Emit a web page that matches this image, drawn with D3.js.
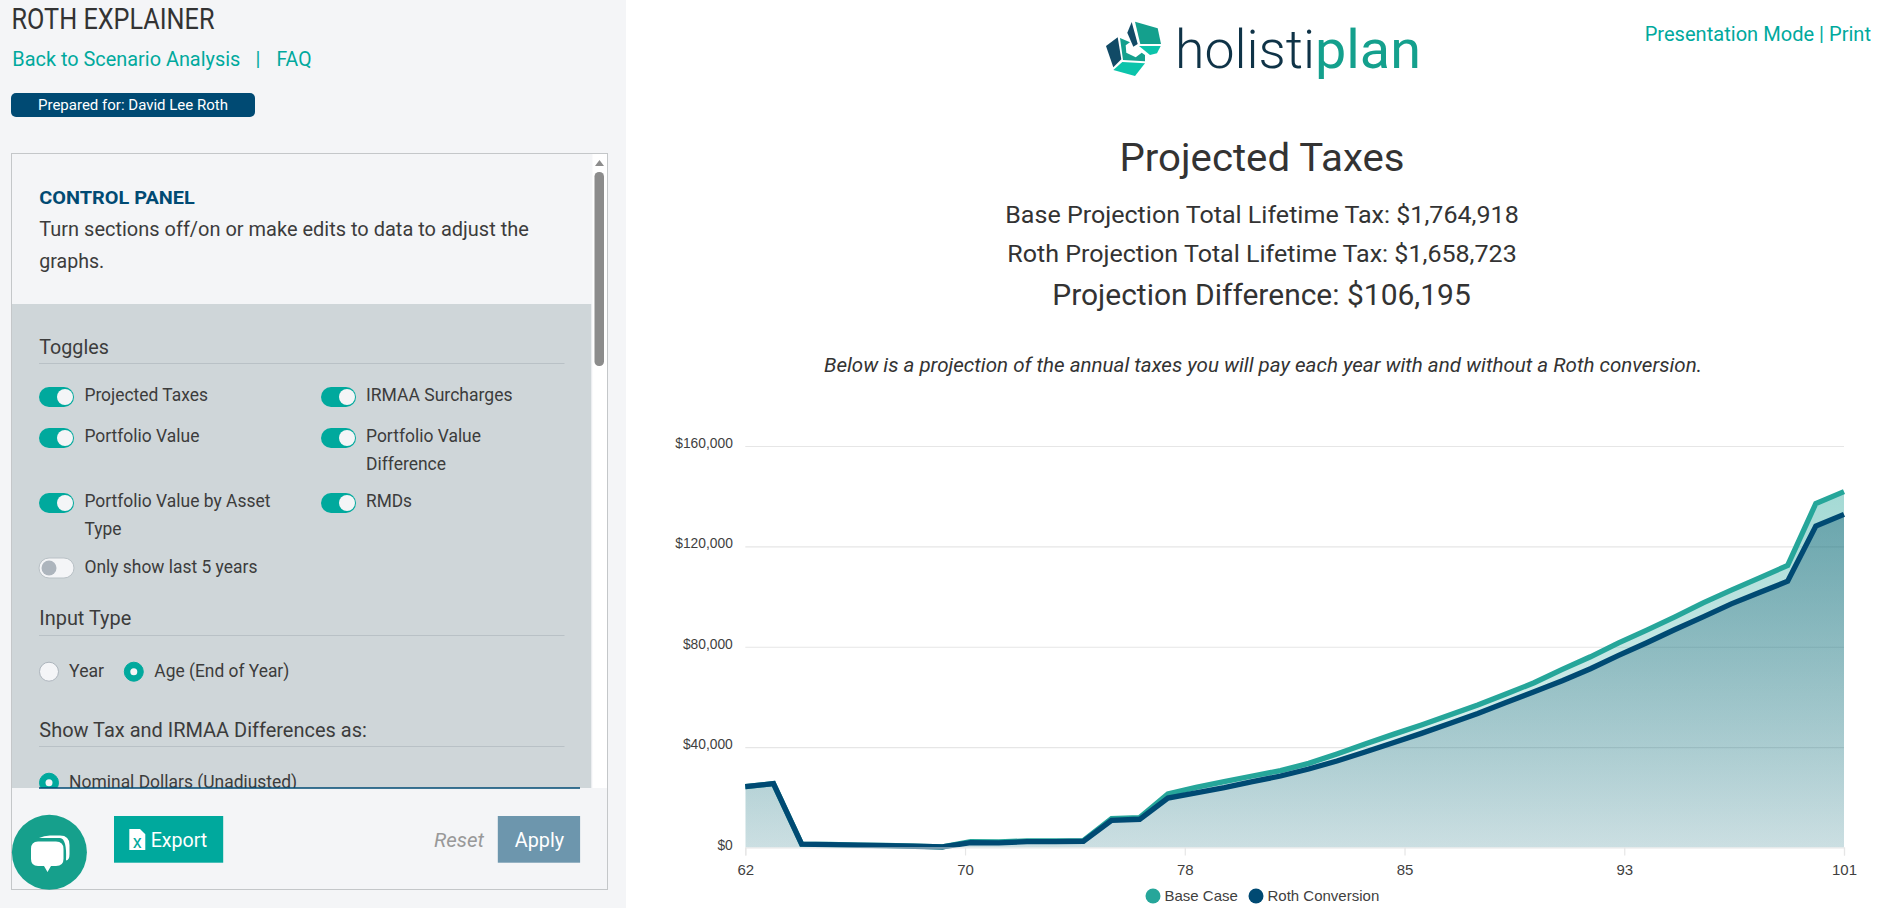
<!DOCTYPE html>
<html><head><meta charset="utf-8">
<script src="https://cdn.jsdelivr.net/npm/d3@7"></script>
<style>html,body{margin:0;padding:0;background:#fff;overflow:hidden}svg{display:block;font-family:Roboto,sans-serif}
.axis text{font-family:"Liberation Sans",Arial,sans-serif}</style></head><body>
<script>
// ---- chart data ----
const ages = [62,63,64,65,66,67,68,69,70,71,72,73,74,75,76,77,78,79,80,81,82,83,84,85,86,87,88,89,90,91,92,93,94,95,96,97,98,99,100,101];
const baseCase = [24250,25440,1350,1200,950,800,550,250,2350,2220,2620,2620,2750,11510,11910,21330,23980,26240,28500,30620,33540,37250,41230,45080,48800,52780,56760,61140,65650,70960,76000,81580,86620,91930,97500,102540,107450,112400,137100,141800];
const rothConversion = [24250,25440,1300,1160,900,760,500,230,1950,1820,2350,2350,2490,10850,11250,19700,21730,23850,26240,28500,31280,34470,38050,41770,45480,49460,53440,57820,62070,66450,71230,76530,81580,86880,91930,97100,101600,106100,128100,132750];
const yTicks = [0,40000,80000,120000,160000];
const xTicks = [62,69.8,77.6,85.4,93.2,101];
const seriesNames = ["Base Case","Roth Conversion"];
const col = {teal:"#00a99d",navy:"#004a73",base:"#26a69a",side:"#f4f5f7",gray:"#cfd6d9",rule:"#b9c1c6",ink:"#333333"};

const svg = d3.select("body").append("svg").attr("width",1883).attr("height",908);
const defs = svg.append("defs");
function T(x,y,s,o={}){
  const t = (o.g||svg).append("text").attr("x",x).attr("y",y).text(s)
    .attr("font-size",o.size||17).attr("fill",o.fill||col.ink);
  if(o.weight) t.attr("font-weight",o.weight);
  if(o.italic) t.attr("font-style","italic");
  if(o.anchor) t.attr("text-anchor",o.anchor);
  if(o.width) t.attr("textLength",o.width).attr("lengthAdjust","spacingAndGlyphs");
  return t;
}
function R(x,y,w,h,fill,o={}){
  const r=(o.g||svg).append("rect").attr("x",x).attr("y",y).attr("width",w).attr("height",h).attr("fill",fill);
  if(o.rx) r.attr("rx",o.rx);
  if(o.stroke) r.attr("stroke",o.stroke);
  return r;
}
function L(x1,x2,y,c,w=1){svg.append("line").attr("x1",x1).attr("x2",x2).attr("y1",y).attr("y2",y).attr("stroke",c).attr("stroke-width",w);}

// ---- sidebar ----
R(0,0,626,908,col.side);
T(11.5,29,"ROTH EXPLAINER",{size:30,width:203});
T(12.3,65.5,"Back to Scenario Analysis",{size:20,fill:col.teal,width:228});
T(255.5,65.5,"|",{size:20,fill:col.teal});
T(276.5,65.5,"FAQ",{size:20,fill:col.teal,width:35});
R(11,93,244,24,col.navy,{rx:5});
T(38,109.7,"Prepared for: David Lee Roth",{size:15,fill:"#fff",width:190});

R(11.5,153.5,596,736,col.side,{stroke:"#c4c7c9"});
R(592.5,154,14.5,634,"#ffffff");
svg.append("path").attr("d","M599.5 160 L604 166 L595 166 Z").attr("fill","#8c8c8c");
R(594.5,172,9.5,194,"#8c8c8c",{rx:4.5});
T(39.3,203.7,"CONTROL PANEL",{size:19.2,weight:700,fill:col.navy,width:155.5});
T(39.3,235.7,"Turn sections off/on or make edits to data to adjust the",{size:19.8,fill:"#3c3c3c",width:489.5});
T(39.3,267.7,"graphs.",{size:19.8,fill:"#3c3c3c",width:65});

defs.append("clipPath").attr("id","pc").append("rect").attr("x",12).attr("y",304).attr("width",579.5).attr("height",484);
const pg = svg.append("g").attr("clip-path","url(#pc)");
R(12,304,579.5,484,col.gray,{g:pg});
function head(y,s,w,ruleY){T(39.3,y,s,{size:20,g:pg,width:w,fill:"#3c3c3c"});
  pg.append("line").attr("x1",39).attr("x2",564.5).attr("y1",ruleY).attr("y2",ruleY).attr("stroke",col.rule).attr("stroke-width",1);}
head(353.7,"Toggles",69.5,363.5);
head(625.2,"Input Type",92,635.5);
head(737,"Show Tax and IRMAA Differences as:",327.5,746.5);

function toggle(x,y,on){
  R(x,y,35,20,on?col.teal:col.side,{g:pg,rx:10,stroke:on?null:col.rule});
  pg.append("circle").attr("cx",on?x+26:x+10).attr("cy",y+10).attr("r",on?8:7.5).attr("fill",on?col.side:"#adb5bd");
}
const lab={size:17.6,g:pg,fill:"#3c3c3c"};
toggle(39,387,true); T(84.4,401.2,"Projected Taxes",{...lab,width:123.5});
toggle(321,387,true); T(366,401.2,"IRMAA Surcharges",{...lab,width:146.5});
toggle(39,428,true); T(84.4,442.2,"Portfolio Value",{...lab,width:115});
toggle(321,428,true); T(366,442.2,"Portfolio Value",{...lab,width:115}); T(366,470.2,"Difference",{...lab,width:80});
toggle(39,493,true); T(84.4,507.2,"Portfolio Value by Asset",{...lab,width:186}); T(84.4,535.2,"Type",{...lab,width:37});
toggle(321,493,true); T(366,507.2,"RMDs",{...lab,width:46});
toggle(39,558,false); T(84.4,572.8,"Only show last 5 years",{...lab,width:173});
function radio(x,y,on){
  pg.append("circle").attr("cx",x).attr("cy",y).attr("r",9.5).attr("fill",on?col.teal:col.side).attr("stroke",on?col.teal:"#adb5bd");
  if(on) pg.append("circle").attr("cx",x).attr("cy",y).attr("r",3.5).attr("fill",col.side);
}
radio(49,671.7,false); T(69.1,676.8,"Year",{...lab,width:35});
radio(133.8,671.7,true); T(154.3,676.8,"Age (End of Year)",{...lab,width:135});
radio(49,782.7,true); T(69.1,787.5,"Nominal Dollars (Unadjusted)",{...lab,width:228});
L(39,580,788,col.navy,1.5);

R(114,816,109.2,46.7,col.teal);
svg.append("path").attr("d","M129.3 829 H140 L145.3 834.3 V850 H129.3 Z").attr("fill","#fff");
T(137.3,848,"x",{size:18,fill:col.teal,anchor:"middle",width:9});
T(150.7,846.8,"Export",{size:20,fill:"#fff",width:56.6});
T(434,846.8,"Reset",{size:20,italic:true,fill:"#999",width:50});
R(497.8,816,82.3,46.7,"#6d96ad");
T(514.8,846.6,"Apply",{size:20,fill:"#fff",width:49.4});

svg.append("circle").attr("cx",49.4).attr("cy",852.3).attr("r",37.5).attr("fill","#16a08c");
svg.append("path").attr("d","M39 838 Q44 835.5 50 835.5 H60 Q69.5 835.5 69.5 845 V854 Q69.5 860 66 860.5 Q67 838.5 60 838 Z").attr("fill","#fff");
svg.append("path").attr("d","M38 841.5 H56 Q63.5 841.5 63.5 849 V859 Q63.5 866 56 866 H51 L47.5 872 L44 866 H38 Q31 866 31 859 V849 Q31 841.5 38 841.5 Z").attr("fill","#fff");

// ---- logo ----
const P=(d,c)=>svg.append("path").attr("d",d).attr("fill",c);
const lx=z=>1095+z/3, ly=z=>10+z/3;
const poly=(pts,c)=>P("M"+pts.map(p=>lx(p[0]).toFixed(1)+" "+ly(p[1]).toFixed(1)).join("L")+"Z",c);
poly([[120,35],[188,55],[198,102],[136,102]],"#14a08d");
poly([[110,36],[128,102],[115,110],[97,68]],"#114a66");
poly([[132,108],[197,108],[186,130],[165,135]],"#0cc4ab");
poly([[68,82],[79,148],[55,172],[33,108]],"#114a66");
poly([[75,84],[105,97],[92,106],[94,128],[122,142],[140,128],[150,135],[150,154],[84,150]],"#14a08d");
poly([[82,156],[150,160],[120,198],[55,180]],"#0cc4ab");
T(1175,68.3,"holisti",{size:54,weight:300,fill:"#0f3347",width:140});
T(1315,68.3,"plan",{size:54,weight:400,fill:"#14a08d",width:106});
T(1644.7,41.2,"Presentation Mode | Print",{size:19.6,fill:col.teal,width:226.3});

// ---- headings ----
T(1262,170.7,"Projected Taxes",{size:38.4,anchor:"middle",width:285});
T(1262,223,"Base Projection Total Lifetime Tax: $1,764,918",{size:24.4,anchor:"middle",width:513.5});
T(1262,262,"Roth Projection Total Lifetime Tax: $1,658,723",{size:24.4,anchor:"middle",width:509.5});
T(1261.5,305,"Projection Difference: $106,195",{size:29,anchor:"middle",width:418.5});
T(1263,372,"Below is a projection of the annual taxes you will pay each year with and without a Roth conversion.",{size:19.6,italic:true,anchor:"middle",width:878});

// ---- chart ----
const x = d3.scaleLinear().domain([62,101]).range([745.3,1844]);
const y = d3.scaleLinear().domain([0,160000]).range([847.5,446]);
const g = svg.append("g");
const gy = g.append("g").attr("class","axis").attr("transform","translate(745.3,0)")
  .call(d3.axisLeft(y).tickValues(yTicks).tickSize(0).tickPadding(12.5).tickFormat(d=>"$"+d3.format(",")(d)));
gy.select(".domain").remove();
gy.selectAll("text").attr("font-size",13.8).attr("fill","#3f3f3f").attr("dy","1.5px");
gy.selectAll("g.tick").filter(d=>d!==0).append("line").attr("x2",1098.7).attr("stroke","#e6e6e6").attr("stroke-width",1.2);

const grad=(id,c,a,b)=>{const lg=defs.append("linearGradient").attr("id",id).attr("gradientUnits","userSpaceOnUse")
  .attr("x1",0).attr("x2",0).attr("y1",y(142000)).attr("y2",y(0));
  lg.append("stop").attr("offset",0).attr("stop-color",c).attr("stop-opacity",a);
  lg.append("stop").attr("offset",1).attr("stop-color",c).attr("stop-opacity",b);};
grad("gb",col.base,0.42,0.08);
grad("gr","#08506b",0.4,0.15);
const area=d3.area().x((d,i)=>x(ages[i])).y0(y(0)).y1(d=>y(d));
const line=d3.line().x((d,i)=>x(ages[i])).y(d=>y(d));
defs.append("clipPath").attr("id","cc").append("rect").attr("x",745.3).attr("y",400).attr("width",1098.7).attr("height",448);
const plot=g.append("g").attr("clip-path","url(#cc)");
plot.append("path").attr("d",area(baseCase)).attr("fill","url(#gb)");
plot.append("path").attr("d",area(rothConversion)).attr("fill","url(#gr)");
const lines=g.append("g");
lines.append("path").attr("d",line(baseCase)).attr("fill","none").attr("stroke",col.base).attr("stroke-width",5.3).attr("stroke-linejoin","miter");
lines.append("path").attr("d",line(rothConversion)).attr("fill","none").attr("stroke",col.navy).attr("stroke-width",5.3).attr("stroke-linejoin","miter");

const gx = g.append("g").attr("class","axis").attr("transform","translate(0,847.5)")
  .call(d3.axisBottom(x).tickValues(xTicks).tickSize(8).tickPadding(9).tickFormat(d=>Math.round(d)));
gx.select(".domain").attr("stroke","#e6e6e6").attr("stroke-width",1.2);
gx.selectAll("line").attr("stroke","#e6e6e6").attr("stroke-width",1.2);
gx.selectAll("text").attr("font-size",15).attr("fill","#3f3f3f");

// ---- legend ----
const lg = svg.append("g").attr("font-family","'Liberation Sans',Arial,sans-serif");
const lgX=[1153,1256], lgC=[col.base,col.navy];
seriesNames.forEach((s,i)=>{
  lg.append("circle").attr("cx",lgX[i]).attr("cy",896).attr("r",7.5).attr("fill",lgC[i]);
  lg.append("text").attr("x",lgX[i]+11.5).attr("y",901).attr("font-size",15).attr("fill","#3f3f3f").text(s);
});
</script></body></html>
